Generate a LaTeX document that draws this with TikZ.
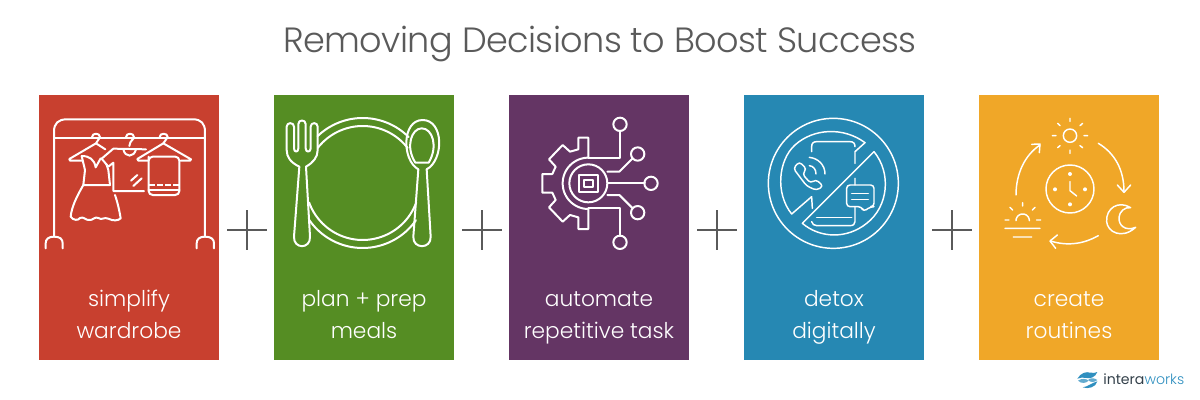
\documentclass[tikz,border=0pt]{standalone}
\usepackage{fontspec}
\setmainfont{Poppins Light}
\newfontfamily\logofont{Poppins}
\definecolor{cred}{HTML}{C8402F}
\definecolor{cgreen}{HTML}{558D23}
\definecolor{cpurple}{HTML}{643564}
\definecolor{cblue}{HTML}{2688B3}
\definecolor{cyellow}{HTML}{F0A728}
\definecolor{cgrey}{HTML}{5A5A5A}
\definecolor{clogo}{HTML}{2F8FBF}
\definecolor{clogodark}{HTML}{33404A}
\tikzset{
 card/.style={fill=#1,draw=none,minimum width=135pt,minimum height=198.75pt,anchor=north west,inner sep=0pt},
 cardtext/.style={text=white,font=\fontsize{16.3pt}{24pt}\selectfont,align=center,anchor=base,inner sep=0pt},
 plussign/.style={draw=cgrey,line width=1.5pt},
 ico/.style={draw=white,line width=1.5pt,line join=round,line cap=round},
 icothin/.style={draw=white,line width=1.1pt,line join=round,line cap=round},
 zoomat/.style={shift={#1},xscale=1/3,yscale=1/3},
}
\begin{document}
\begin{tikzpicture}[x=0.75pt,y=-0.75pt]
\useasboundingbox (0,0) rectangle (1200,400);
\node[text=cgrey,font=\fontsize{26.3pt}{32pt}\selectfont\addfontfeature{LetterSpace=-1.7},inner sep=0pt,anchor=base] (title) at (600,52) {Removing Decisions to Boost Success};
\node[card=cred] (c1) at (39,95) {};
\node[card=cgreen] (c2) at (274,95) {};
\node[card=cpurple] (c3) at (509,95) {};
\node[card=cblue] (c4) at (744,95) {};
\node[card=cyellow] (c5) at (979,95) {};
\node[cardtext] (t1) at (129,338) {simplify\\wardrobe};
\node[cardtext] (t2) at (364,338) {plan + prep\\meals};
\node[cardtext] (t3) at (599,338) {automate\\repetitive task};
\node[cardtext] (t4) at (834,338) {detox\\digitally};
\node[cardtext] (t5) at (1069,338) {create\\routines};
\foreach \px in {247,482,717,952}{
 \draw[plussign] (\px-20,230) -- (\px+20,230) (\px,210) -- (\px,250);
}
% wardrobe
\begin{scope}[zoomat={(30,90)}]
\draw[ico] (72,440) -- (72,125) .. controls (72,100) and (85,88) .. (110,88) -- (490,88) .. controls (512,88) and (525,100) .. (525,125) -- (525,440);
\draw[ico] (72,145) -- (525,145);
\draw[ico] (47,475) -- (47,460) .. controls (47,447) and (56,440) .. (72,440) .. controls (90,440) and (98,447) .. (98,460) -- (98,475);
\draw[ico] (500,475) -- (500,460) .. controls (500,447) and (509,440) .. (525,440) .. controls (543,440) and (552,447) .. (552,460) -- (552,475);
% dress hanger
\draw[ico] (186,141) .. controls (186,128) and (210,128) .. (210,141) .. controls (210,149) and (200,150) .. (198,160) -- (118,207) -- (120,212) -- (155,212);
\draw[ico] (198,160) -- (226,178);
% dress
\draw[ico] (155,198) -- (165,240) -- (160,285) -- (240,285) -- (235,240) -- (229,222);
\draw[ico] (155,198) .. controls (178,198) and (193,208) .. (197,232) -- (212,205);
\draw[ico] (160,285) .. controls (140,320) and (125,350) .. (122,380) .. controls (130,392) and (145,392) .. (150,384) .. controls (160,378) and (168,392) .. (178,390) .. controls (188,392) and (195,378) .. (205,384) .. controls (215,392) and (222,380) .. (235,386) .. controls (250,394) and (265,392) .. (272,385) .. controls (268,360) and (262,335) .. (255,315);
% shirt hanger
\draw[ico] (288,141) .. controls (288,128) and (312,128) .. (312,141) .. controls (312,149) and (300,150) .. (298,168);
\draw[ico] (280,178) .. controls (285,203) and (312,203) .. (318,178);
\draw[ico] (215,206) -- (250,176) -- (348,178);
\draw[ico] (215,206) -- (235,230) -- (250,218) -- (250,303) -- (342,303);
\draw[ico] (303,272) -- (322,255) (310,288) -- (335,265);
% towel hanger
\draw[ico] (389,141) .. controls (389,128) and (413,128) .. (413,141) .. controls (413,149) and (402,150) .. (400,160) -- (322,207) -- (325,212) -- (355,212);
\draw[ico] (400,160) -- (483,208) -- (480,212) -- (452,212);
\draw[ico,rounded corners=3pt] (356,212) -- (356,200) -- (448,200) -- (448,315) -- (356,315) -- cycle;
\draw[ico] (356,300) -- (448,300);
\draw[ico,line cap=butt,dash pattern=on 4pt off 2pt] (358,285) -- (446,285);
\end{scope}
% plate
\begin{scope}[zoomat={(270,100)}]
\draw[ico] plot[domain=226:315,samples=40] ({278+195*cos(\x)},{249+195*sin(\x)});
\draw[ico] plot[domain=218:322,samples=40] ({278+171*cos(\x)},{249+171*sin(\x)});
\draw[ico] plot[domain=35:145,samples=40] ({278+195*cos(\x)},{249+195*sin(\x)});
\draw[ico] plot[domain=20:160,samples=40] ({278+171*cos(\x)},{249+171*sin(\x)});
% fork
\draw[ico] (88,200) .. controls (62,187) and (50,172) .. (50,150) -- (50,80) .. controls (50,66) and (72,66) .. (72,80) -- (72,145) .. controls (72,158) and (85,158) .. (85,145) -- (85,72) .. controls (85,58) and (107,58) .. (107,72) -- (107,145) .. controls (107,158) and (122,158) .. (122,145) -- (122,80) .. controls (122,66) and (143,66) .. (143,80) -- (143,150) .. controls (143,172) and (130,187) .. (108,200) -- (120,410) .. controls (122,448) and (70,448) .. (72,410) -- cycle;
% spoon
\draw[ico] (445,208) .. controls (395,180) and (395,60) .. (458,60) .. controls (522,60) and (522,180) .. (470,208) -- (482,410) .. controls (484,448) and (428,448) .. (430,410) -- cycle;
\draw[ico] (436,188) .. controls (405,140) and (425,85) .. (455,85) .. controls (488,85) and (505,140) .. (476,188) -- cycle;
\end{scope}
% automation gear
\begin{scope}[zoomat={(520,100)}]
\draw[ico] (205,173) -- (205,113) -- (175,113) -- (175,148) -- (150,155) -- (128,135) -- (87,178) -- (107,200) -- (97,222) -- (67,222) -- (67,278) -- (97,278) -- (107,300) -- (87,322) -- (128,365) -- (150,345) -- (175,352) -- (175,387) -- (205,387) -- (205,327);
\draw[ico] (205,250) circle[radius=57];
\draw[ico] plot[domain=90:270,samples=40] ({205+77*cos(\x)},{250+77*sin(\x)});
\draw[ico] (178,225) rectangle (235,277);
\draw[ico] (193,240) rectangle (218,260);
\draw[ico] (205,173) -- (300,173) -- (300,92);
\draw[ico] (300,73) circle[radius=20];
\draw[ico] (262,215) -- (298,215) -- (338,175);
\draw[ico] (353,162) circle[radius=20];
\draw[ico] (262,250) -- (375,250);
\draw[ico] (393,250) circle[radius=20];
\draw[ico] (262,285) -- (298,285) -- (338,325);
\draw[ico] (353,338) circle[radius=20];
\draw[ico] (205,325) -- (300,325) -- (300,408);
\draw[ico] (300,427) circle[radius=20];
\end{scope}
% detox
\begin{scope}[zoomat={(750,100)}]
\draw[icothin] (250,250) circle[radius=195];
\draw[icothin] (345,128) .. controls (280,80) and (190,85) .. (135,135) .. controls (85,180) and (75,280) .. (125,342) -- (185,290) -- (187,325);
\draw[icothin] (345,128) -- (315,155) -- (315,190);
\draw[icothin] (372,155) .. controls (425,220) and (415,320) .. (350,370) .. controls (290,418) and (210,415) .. (157,370) -- cycle;
\draw[icothin] (185,155) -- (185,140) .. controls (185,130) and (190,125) .. (200,125) -- (300,125) .. controls (310,125) and (315,130) .. (315,140);
\draw[icothin] (315,235) -- (315,255) (315,320) -- (315,365) .. controls (315,372) and (310,377) .. (300,377) -- (200,377) .. controls (192,377) and (187,372) .. (185,365);
\draw[icothin] (200,352) -- (305,352);
\draw[icothin,rounded corners=2.5pt] (290,255) -- (372,255) -- (372,320) -- (362,320) -- (340,335) -- (335,320) -- (290,320) -- cycle;
\draw[icothin] (305,280) -- (355,280) (305,298) -- (355,298);
\draw[icothin,rounded corners=2.5pt] (130,205) -- (148,185) -- (170,207) -- (157,222) -- (182,250) -- (197,238) -- (220,258) -- (200,271) -- (170,258) -- cycle;
\draw[icothin] (178,172) .. controls (205,175) and (225,195) .. (225,222);
\draw[icothin] (178,197) .. controls (190,198) and (198,208) .. (198,222);
\end{scope}
% routines
\begin{scope}[zoomat={(985,100)}]
\draw[icothin] (255,267) circle[radius=72];
\foreach \dx/\dy in {255/222,210/268,300/268,255/313}{
 \fill[white] (\dx,\dy) circle[radius=6];
}
\draw[icothin] (255,245) -- (255,272) -- (275,288);
\draw[icothin] (255,107) circle[radius=20];
\draw[icothin] (255,55) -- (255,64) (255,150) -- (255,160) (202,107) -- (213,107) (297,107) -- (308,107) (218,70) -- (225,77) (293,70) -- (285,77) (218,143) -- (225,137) (293,143) -- (285,137);
\draw[icothin] (340,130) .. controls (390,160) and (417,210) .. (417,275);
\draw[icothin] (397,255) -- (417,277) -- (437,255);
\draw[icothin] (93,285) .. controls (93,220) and (120,165) .. (165,135);
\draw[icothin] (140,133) -- (165,132) -- (163,158);
\draw[icothin] (340,407) .. controls (300,430) and (250,440) .. (197,423);
\draw[icothin] (217,405) -- (195,423) -- (212,445);
\draw[icothin] (437,323) .. controls (400,300) and (362,325) .. (365,365) .. controls (367,395) and (410,420) .. (452,382) .. controls (420,395) and (400,375) .. (402,352) .. controls (403,335) and (420,320) .. (437,323) -- cycle;
\draw[icothin] plot[domain=180:360,samples=20] ({113+20*cos(\x)},{362+20*sin(\x)});
\draw[icothin] (60,385) -- (165,385) (85,411) -- (140,411) (60,360) -- (72,360) (155,360) -- (167,360) (75,322) -- (83,330) (150,322) -- (142,330) (113,308) -- (113,318);
\end{scope}
% logo
\begin{scope}[zoomat={(1060,360)}]
\fill[clogo] (52,56) .. controls (62,38) and (80,34) .. (90,38) .. controls (100,40) and (108,38) .. (112,36) .. controls (106,52) and (90,57) .. (80,54) .. controls (70,52) and (60,52) .. (52,56) -- cycle;
\fill[clogo!75] (54,62) .. controls (65,54) and (80,56) .. (86,62) .. controls (78,70) and (64,72) .. (54,62) -- cycle;
\fill[clogo] (68,82) .. controls (84,80) and (92,70) .. (112,64) .. controls (108,82) and (84,88) .. (68,82) -- cycle;
\fill[clogo!75] (84,60) .. controls (92,52) and (104,54) .. (112,60) .. controls (102,68) and (92,68) .. (84,60) -- cycle;
\end{scope}
\node[anchor=base west,inner sep=0pt,font=\fontsize{10.6pt}{14pt}\selectfont] (logo) at (1103,384.5) {\textcolor{clogodark}{\logofont intera}\textcolor{clogo}{works}};
\end{tikzpicture}
\end{document}
